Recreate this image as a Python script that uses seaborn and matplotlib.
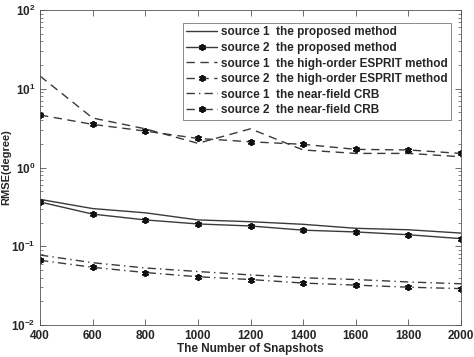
import matplotlib
matplotlib.use('Agg')
import matplotlib.pyplot as plt
import seaborn as sns
import pandas as pd
from matplotlib.ticker import LogLocator, FixedLocator

snapshots = [400, 600, 800, 1000, 1200, 1400, 1600, 1800, 2000]

proposed_s1 = [0.394, 0.301, 0.266, 0.216, 0.205, 0.190, 0.169, 0.162, 0.147]
proposed_s2 = [0.365, 0.256, 0.216, 0.192, 0.181, 0.160, 0.152, 0.140, 0.125]
esprit_s1 = [14.5, 4.25, 3.1, 2.03, 3.1, 1.67, 1.51, 1.51, 1.37]
esprit_s2 = [4.64, 3.53, 2.90, 2.34, 2.12, 1.97, 1.70, 1.67, 1.51]
crb_s1 = [0.0774, 0.0618, 0.053, 0.0478, 0.0432, 0.0398, 0.0378, 0.0352, 0.0334]
crb_s2 = [0.0664, 0.054, 0.0464, 0.041, 0.0378, 0.0341, 0.0321, 0.0302, 0.029]

labels = ['source 1  the proposed method',
          'source 2  the proposed method',
          'source 1  the high-order ESPRIT method',
          'source 2  the high-order ESPRIT method',
          'source 1  the near-field CRB',
          'source 2  the near-field CRB']

sns.set_theme(style='ticks')
plt.rcParams['font.family'] = ['Liberation Sans', 'DejaVu Sans']

series = [proposed_s1, proposed_s2, esprit_s1, esprit_s2, crb_s1, crb_s2]
asterisk = (6, 2, 0)
styles = [('-', None), ('-', asterisk), ((0, (6, 4)), None), ((0, (6, 4)), asterisk),
          ((0, (6, 3, 1, 3)), None), ((0, (6, 3, 1, 3)), asterisk)]

fig = plt.figure(figsize=(4.74, 3.57), dpi=100)
ax = fig.add_axes([0.0844, 0.0896, 0.8882, 0.8824])

col = '#3a3a3a'
for vals, lab, (ls, mk) in zip(series, labels, styles):
    df = pd.DataFrame({'x': snapshots, 'y': vals})
    sns.lineplot(data=df, x='x', y='y', ax=ax, color=col, linewidth=1.0,
                 linestyle=ls, marker=mk, markersize=5, markeredgewidth=1.3,
                 markeredgecolor='#111111', markerfacecolor='#111111', label=lab)

ax.set_yscale('log')
ax.set_xlim(400, 2000)
ax.set_ylim(1e-2, 1e2)
ax.xaxis.set_major_locator(FixedLocator(snapshots))
ax.yaxis.set_major_locator(LogLocator(base=10, numticks=10))
ax.yaxis.set_minor_locator(LogLocator(base=10, subs=range(2, 10), numticks=20))
ax.tick_params(which='both', direction='in', top=True, right=True, labelsize=8.5, color='#555555')
ax.tick_params(which='major', length=4, width=0.6)
ax.tick_params(which='minor', length=2, width=0.5)
for s in ax.spines.values():
    s.set_linewidth(0.6)
    s.set_color('#555555')
for t in ax.get_xticklabels() + ax.get_yticklabels():
    t.set_fontweight('bold')

ax.set_xlabel('The Number of Snapshots', fontsize=8.5, fontweight='bold', labelpad=1)
ax.set_ylabel('RMSE(degree)', fontsize=8, fontweight='bold')
ax.yaxis.set_label_coords(-0.068, 0.5)

leg = ax.legend(loc='upper right', bbox_to_anchor=(0.976, 0.959), borderaxespad=0,
                fontsize=8.5, handlelength=2.6, handletextpad=0.3, borderpad=0.3,
                labelspacing=0.3, fancybox=False, framealpha=1, edgecolor='#777777')
leg.get_frame().set_linewidth(0.6)
for t in leg.get_texts():
    t.set_fontweight('semibold')

fig.savefig('out.png', dpi=100)
